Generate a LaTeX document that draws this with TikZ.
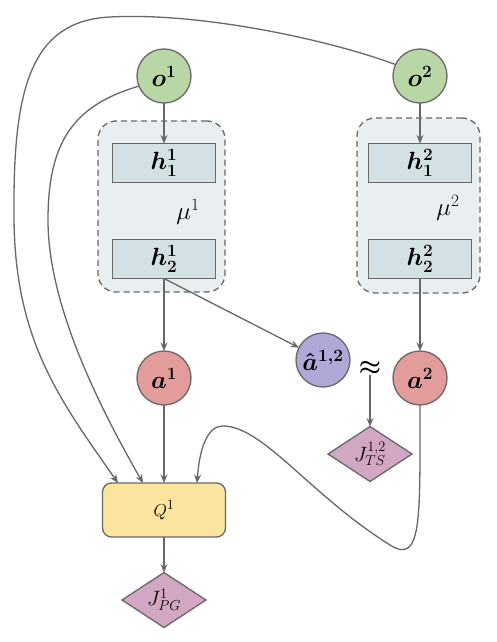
\documentclass[tikz,border=0pt]{standalone}
\usepackage{bm}
\usetikzlibrary{shapes.geometric,arrows.meta,calc}
\definecolor{edgec}{HTML}{676767}
\definecolor{obsc}{HTML}{B9D6A7}
\definecolor{hidc}{HTML}{D3E0E4}
\definecolor{grpc}{HTML}{E9EFF1}
\definecolor{actc}{HTML}{E29C9A}
\definecolor{estc}{HTML}{B1A8D8}
\definecolor{lossc}{HTML}{D2A7C3}
\definecolor{qc}{HTML}{FBE49E}
\begin{document}
\begin{tikzpicture}[x=1pt,y=-1pt,
  every node/.style={inner sep=0pt, outer sep=0pt},
  arr/.style={draw=edgec, line width=1.3pt, -{Stealth[length=8.5pt,width=7pt]}},
  circ/.style={circle, draw=edgec, line width=1.3pt, minimum size=54pt, font=\fontsize{23}{27}\selectfont\boldmath},
  hbox/.style={rectangle, draw=edgec, line width=1.3pt, fill=hidc, minimum width=103pt, minimum height=39pt, font=\fontsize{23}{27}\selectfont\boldmath},
  grp/.style={rectangle, rounded corners=18pt, draw=edgec, dashed, dash pattern=on 6pt off 4pt, line width=1.3pt, fill=grpc},
  lossbox/.style={diamond, draw=edgec, line width=1.3pt, fill=lossc, minimum width=84pt, minimum height=55pt, aspect=1.5, font=\fontsize{21}{24}\selectfont},
  qbox/.style={rectangle, rounded corners=9pt, draw=edgec, line width=1.3pt, fill=qc, minimum width=123pt, minimum height=54pt, font=\fontsize{19}{22}\selectfont},
  mulab/.style={font=\fontsize{27}{30}\selectfont}
]
\useasboundingbox (0,0) rectangle (496,642);

% groups
\node[grp, minimum width=127pt, minimum height=171pt] (mu1) at (161.5,206.5) {};
\node[grp, minimum width=123pt, minimum height=175pt] (mu2) at (418.5,205.5) {};
\node[mulab] (mul1) at (188,212) {$\mu^1$};
\node[mulab] (mul2) at (448,208) {$\mu^2$};

% nodes
\node[circ, fill=obsc] (o1) at (164,76) {$o^1$};
\node[circ, fill=obsc] (o2) at (420,76) {$o^2$};
\node[hbox] (h11) at (164,163) {$h^1_1$};
\node[hbox] (h21) at (164,259) {$h^1_2$};
\node[hbox] (h12) at (420,163) {$h^2_1$};
\node[hbox] (h22) at (420,259) {$h^2_2$};
\node[circ, fill=actc] (a1) at (164,378) {$a^1$};
\node[circ, fill=actc] (a2) at (420,378) {$a^2$};
\node[circ, fill=estc] (ah) at (323,360) {$\hat{a}^{1,2}$};
\node[font=\fontsize{30}{32}\selectfont\boldmath] (apx) at (370,368) {$\approx$};
\node[lossbox] (jts) at (370,454) {$J^{1,2}_{TS}$};
\node[qbox] (q1) at (164,510) {$Q^1$};
\node[lossbox] (jpg) at (164,600) {$J^{1}_{PG}$};

% straight connectors
\draw[arr] (o1) -- (h11);
\draw[arr] (o2) -- (h12);
\draw[arr] (h21) -- (a1);
\draw[arr] (h22) -- (a2);
\draw[arr] (a1) -- (q1);
\draw[arr] (q1) -- (jpg);
\draw[arr] (apx) -- (jts);
\draw[arr] (h21.south) -- (ah);

% curved connectors
\draw[arr] (o2.155) .. controls (330,40) and (200,12) .. (110,17)
  .. controls (30,21) and (13,90) .. (14,215)
  .. controls (14,340) and (60,400) .. ($(q1.north)+(-46,0)$);
\draw[arr] (o1.202) .. controls (75,105) and (48,140) .. (48,220)
  .. controls (48,300) and (93,396) .. ($(q1.north)+(-21,0)$);
\draw[arr] (a2.south) .. controls (420,520) and (422,565) .. (390,545)
  .. controls (310,495) and (263,426) .. (223,426)
  .. controls (205,426) and (199,455) .. ($(q1.north)+(33,0)$);
\end{tikzpicture}
\end{document}
